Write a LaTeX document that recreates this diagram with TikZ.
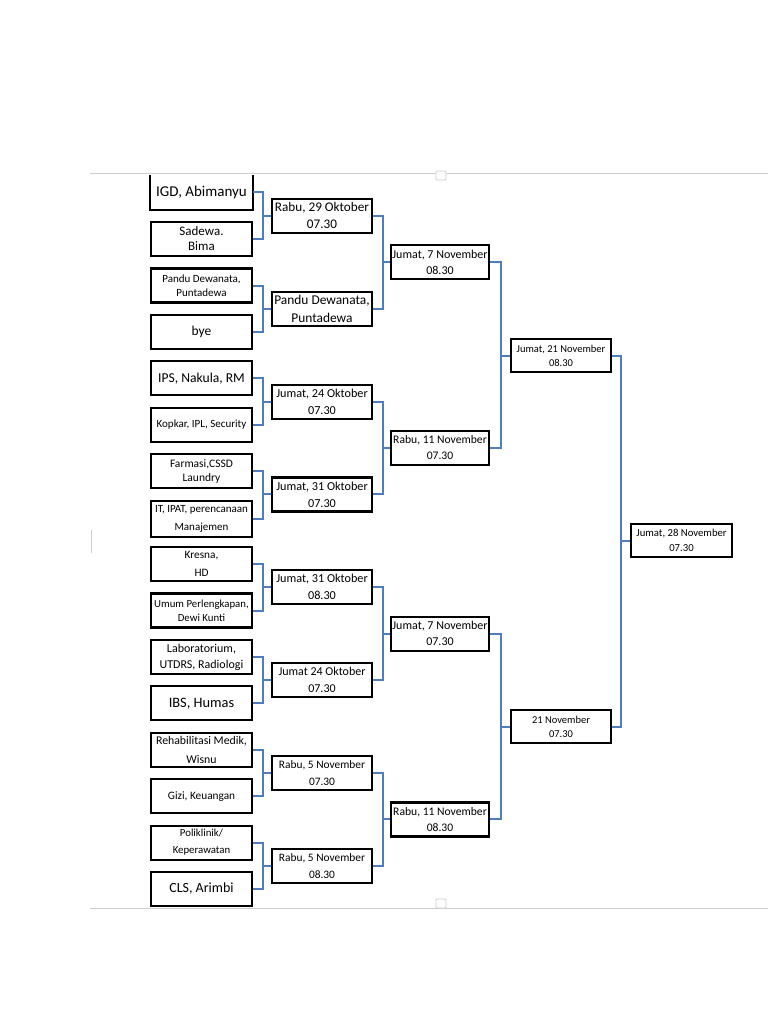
\documentclass[tikz,border=0pt]{standalone}
\usepackage{fontspec}
\setmainfont{Carlito}
\newcommand\fsz[2]{\fontsize{#1}{#2}\selectfont}
\definecolor{bracketblue}{RGB}{79,126,192}
\definecolor{pagegrey}{RGB}{205,205,205}
\begin{document}
\begin{tikzpicture}[x=1pt,y=-1pt,
  tbox/.style={draw=black, line width=2.2pt, minimum width=101pt, minimum height=34pt, inner sep=0pt, align=center},
  rbox/.style={tbox, minimum width=100pt},
  conn/.style={draw=bracketblue, line width=2pt},
  pageline/.style={draw=pagegrey, line width=1.4pt},
  marker/.style={draw=pagegrey, fill=white, line width=0.8pt, rounded corners=1pt, minimum width=10pt, minimum height=9pt, inner sep=0pt}
]
\useasboundingbox (0,0) rectangle (768,1024);
% page edges
\draw[pageline] (90,173.5) -- (768,173.5);
\draw[pageline] (90,908.5) -- (768,908.5);
\node[marker] (mk1) at (441,175.5) {};
\node[marker] (mk2) at (441,903.5) {};
\draw[draw=pagegrey, line width=1pt] (91,530) -- (91,553);

% team boxes
\node[tbox, draw=none, minimum height=33pt, font=\fsz{15}{17}] (t1) at (201.5,192.5) {IGD, Abimanyu};
\draw[black, line width=2.2pt] (t1.north west) -- (t1.south west) -- (t1.south east) -- (t1.north east);
\node[tbox, font=\fsz{13}{15}] (t2) at (201.5,239.0) {Sadewa.\\Bima};
\node[tbox, font=\fsz{11}{14}] (t3) at (201.5,285.5) {Pandu Dewanata,\\Puntadewa};
\node[tbox, font=\fsz{13.5}{15}] (t4) at (201.5,331.9) {bye};
\node[tbox, font=\fsz{13.6}{15}] (t5) at (201.5,378.3) {IPS, Nakula, RM};
\node[tbox, font=\fsz{11}{13}] (t6) at (201.5,424.8) {Kopkar, IPL, Security};
\node[tbox, font=\fsz{11.5}{14}] (t7) at (201.5,471.2) {Farmasi,CSSD\\Laundry};
\node[tbox, font=\fsz{11}{18}, minimum height=36pt] (t8) at (201.5,518.6) {IT, IPAT, perencanaan\\Manajemen};
\node[tbox, font=\fsz{11.3}{18}] (t9) at (201.5,564.0) {Kresna,\\HD};
\node[tbox, font=\fsz{10.8}{14}] (t10) at (201.5,610.5) {Umum Perlengkapan,\\Dewi Kunti};
\node[tbox, font=\fsz{12}{16}] (t11) at (201.5,656.9) {Laboratorium,\\UTDRS, Radiologi};
\node[tbox, font=\fsz{14.4}{16}] (t12) at (201.5,703.3) {IBS, Humas};
\node[tbox, font=\fsz{11.8}{19}] (t13) at (201.5,749.8) {Rehabilitasi Medik,\\Wisnu};
\node[tbox, font=\fsz{11.3}{13}] (t14) at (201.5,796.2) {Gizi, Keuangan};
\node[tbox, font=\fsz{10.8}{17}] (t15) at (201.5,842.6) {Poliklinik/\\Keperawatan};
\node[tbox, font=\fsz{14}{16}] (t16) at (201.5,889.0) {CLS, Arimbi};

% round 1
\node[rbox, font=\fsz{13.2}{17}] (r1) at (322,215.8) {Rabu, 29 Oktober\\07.30};
\node[rbox, font=\fsz{13.4}{18}] (r2) at (322,308.7) {Pandu Dewanata,\\Puntadewa};
\node[rbox, font=\fsz{12.2}{17}] (r3) at (322,401.6) {Jumat, 24 Oktober\\07.30};
\node[rbox, font=\fsz{12.2}{17}] (r4) at (322,494.4) {Jumat, 31 Oktober\\07.30};
\node[rbox, font=\fsz{12.2}{17}] (r5) at (322,587.3) {Jumat, 31 Oktober\\08.30};
\node[rbox, font=\fsz{12}{17}] (r6) at (322,680.1) {Jumat 24 Oktober\\07.30};
\node[rbox, font=\fsz{11.4}{17}] (r7) at (322,773.0) {Rabu, 5 November\\07.30};
\node[rbox, font=\fsz{11.4}{17}] (r8) at (322,865.8) {Rabu, 5 November\\08.30};

% round 2
\node[rbox, minimum width=98pt, font=\fsz{12}{16}] (s1) at (440,262.2) {Jumat, 7 November\\08.30};
\node[rbox, minimum width=98pt, font=\fsz{11.6}{16}] (s2) at (440,448.0) {Rabu, 11 November\\07.30};
\node[rbox, minimum width=98pt, font=\fsz{12}{16}] (s3) at (440,633.7) {Jumat, 7 November\\07.30};
\node[rbox, minimum width=98pt, font=\fsz{11.6}{16}] (s4) at (440,819.4) {Rabu, 11 November\\08.30};

% round 3
\node[rbox, minimum height=33pt, font=\fsz{10.5}{14}] (q1) at (561,355.6) {Jumat, 21 November\\08.30};
\node[rbox, minimum height=33pt, font=\fsz{10.5}{14}] (q2) at (561,726.6) {21 November\\07.30};

% final
\node[rbox, minimum width=101pt, minimum height=33pt, font=\fsz{10.7}{15}] (f) at (681.5,540.8) {Jumat, 28 November\\07.30};

% connectors
\foreach \a/\b/\c in {t1/t2/r1, t3/t4/r2, t5/t6/r3, t7/t8/r4, t9/t10/r5, t11/t12/r6, t13/t14/r7, t15/t16/r8}{
  \draw[conn] (\a.east) -- ++(10,0) |- (\c.west);
  \draw[conn] (\b.east) -- ++(10,0) |- (\c.west);
}
\foreach \a/\b/\c in {r1/r2/s1, r3/r4/s2, r5/r6/s3, r7/r8/s4}{
  \draw[conn] (\a.east) -- ++(10,0) |- (\c.west);
  \draw[conn] (\b.east) -- ++(10,0) |- (\c.west);
}
\foreach \a/\b/\c in {s1/s2/q1, s3/s4/q2}{
  \draw[conn] (\a.east) -- ++(11,0) |- (\c.west);
  \draw[conn] (\b.east) -- ++(11,0) |- (\c.west);
}
\draw[conn] (q1.east) -- ++(9,0) |- (f.west);
\draw[conn] (q2.east) -- ++(9,0) |- (f.west);
\end{tikzpicture}
\end{document}
